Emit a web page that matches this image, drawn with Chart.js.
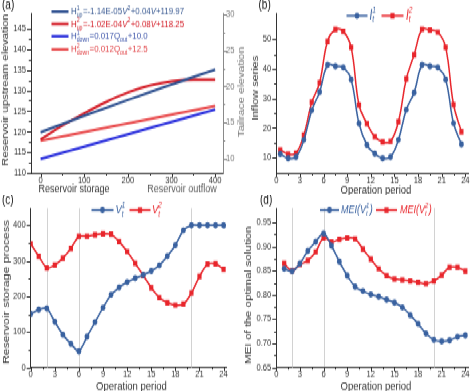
<!DOCTYPE html>
<html>
<head>
<meta charset="utf-8">
<script src="https://cdn.jsdelivr.net/npm/chart.js@4.4.1/dist/chart.umd.min.js"></script>
<style>
  html, body { margin: 0; padding: 0; background: #fff; overflow: hidden; }
  /* the source figure is squashed sideways, so draw at 1/1.3 height and stretch */
  #fig { position: absolute; left: 0; top: 0; width: 474px; height: 301px; transform: scaleY(1.3); transform-origin: 0 0; }
  #fig canvas { position: absolute; }
</style>
</head>
<body>
<div id="fig">
  <canvas id="ca" width="250" height="150" style="left:0px;top:0px"></canvas>
  <canvas id="cb" width="237" height="150" style="left:237px;top:0px"></canvas>
  <canvas id="cc" width="237" height="151" style="left:0px;top:150px"></canvas>
  <canvas id="cd" width="237" height="151" style="left:237px;top:150px"></canvas>
</div>
<script>
const STRETCH = 1.3;
const FONT = '"Liberation Sans", Arial, sans-serif';
const BLUE = '#3a62a0';
const RED = '#e8262c';
const INK = '#333';

// ── (a) level curves ──
const storageLin = [0, 100, 200, 300, 400];
const h1Up = [119.9, 123.9, 127.7, 131.4, 135.0];
const storageCurve = [0, 50, 100, 150, 200, 250, 300, 350, 400];
const h2Up = [118.2, 121.5, 124.5, 127.2, 129.5, 131.2, 132.2, 132.6, 132.6];
const outflow = [0, 400];
const h1Down = [10.0, 16.8];
const h2Down = [12.5, 17.3];
const aTicksX = [0, 100, 200, 300, 400];
const aTicksL = [110, 115, 120, 125, 130, 135, 140, 145];
const aTicksR = [10, 15, 20, 25, 30];

// ── (b) inflow ──
const hoursB = [0.5, 1.5, 2.5, 3.5, 4.5, 5.5, 6.5, 7.5, 8.5, 9.5, 10.5, 11.5, 12.5, 13.5, 14.5, 15.5, 16.5, 17.5, 18.5, 19.5, 20.5, 21.5, 22.5, 23.5];
const inflow1 = [11.2, 9.8, 10.2, 16.0, 26.0, 32.2, 41.3, 40.9, 40.5, 36.4, 21.5, 14.3, 11.3, 9.8, 10.2, 16.0, 26.2, 32.0, 41.3, 40.9, 40.5, 36.4, 21.6, 14.5];
const inflow2 = [12.6, 11.2, 11.5, 17.6, 28.7, 35.3, 49.3, 53.3, 52.7, 47.3, 27.8, 21.5, 17.1, 15.3, 15.5, 22.1, 36.6, 44.8, 53.4, 53.1, 52.4, 47.3, 27.9, 18.7];
const bTicksY = [10, 20, 30, 40, 50];
const periodTicks = [0, 3, 6, 9, 12, 15, 18, 21, 24];

// ── (c) storage process ──
const hoursC = [0, 1, 2, 3, 4, 5, 6, 7, 8, 9, 10, 11, 12, 13, 14, 15, 16, 17, 18, 19, 20, 21, 22, 23, 24];
const storage1 = [150, 162, 166, 128, 92, 66, 45, 86, 127, 168, 204, 225, 240, 251, 260, 271, 287, 313, 344, 386, 400, 400, 400, 400, 400];
const storage2 = [348, 313, 280, 288, 307, 335, 369, 369, 373, 376, 375, 354, 326, 293, 259, 224, 196, 182, 175, 178, 209, 256, 291, 292, 276];
const cTicksY = [0, 100, 200, 300, 400];
const markPeriods = [2, 6, 20];

// ── (d) MEI ──
const hoursD = [1, 2, 3, 4, 5, 6, 7, 8, 9, 10, 11, 12, 13, 14, 15, 16, 17, 18, 19, 20, 21, 22, 23, 24];
const mei1 = [0.854, 0.849, 0.865, 0.891, 0.910, 0.927, 0.902, 0.869, 0.840, 0.817, 0.808, 0.801, 0.796, 0.790, 0.784, 0.774, 0.758, 0.740, 0.720, 0.707, 0.704, 0.706, 0.713, 0.716];
const mei2 = [0.865, 0.850, 0.863, 0.871, 0.889, 0.918, 0.910, 0.915, 0.918, 0.916, 0.895, 0.874, 0.854, 0.840, 0.833, 0.831, 0.829, 0.826, 0.823, 0.829, 0.841, 0.857, 0.857, 0.849];
const dTicksY = [0.65, 0.70, 0.75, 0.80, 0.85, 0.90, 0.95];

const zip = (xs, ys) => xs.map((x, i) => ({ x, y: ys[i] }));

// ── helpers ──
function axis(o) {
  return {
    type: 'linear', position: o.pos, min: o.min, max: o.max,
    grid: { display: false, drawTicks: false },
    border: { display: true, color: o.color || INK, width: 1 },
    ticks: {
      font: { family: FONT, size: 7.6 }, color: o.tcolor || INK,
      padding: o.pad, autoSkip: false, maxRotation: 0,
      callback: o.fmt || (v => v),
    },
    afterBuildTicks: s => { s.ticks = o.ticks.map(v => ({ value: v })); },
    afterFit: s => { if (o.pos === 'bottom') s.height = o.size; else s.width = o.size; },
  };
}

function drawAxisTicks(chart, id, majors, color) {
  const s = chart.scales[id], ctx = chart.ctx;
  const minors = [];
  for (let i = 0; i < majors.length - 1; i++) minors.push((majors[i] + majors[i + 1]) / 2);
  ctx.save();
  ctx.strokeStyle = color; ctx.lineWidth = 1;
  const tick = (v, len) => {
    const p = Math.round(s.getPixelForValue(v)) + 0.5;
    ctx.beginPath();
    if (s.position === 'bottom') { ctx.moveTo(p, s.top); ctx.lineTo(p, s.top + len / STRETCH); }
    else if (s.position === 'left') { ctx.moveTo(s.right, p); ctx.lineTo(s.right - len, p); }
    else { ctx.moveTo(s.left, p); ctx.lineTo(s.left + len, p); }
    ctx.stroke();
  };
  majors.forEach(v => tick(v, 4));
  minors.forEach(v => tick(v, 2.2));
  ctx.restore();
}

// figure pixel coords -> canvas coords
function mapper(ox, oy) {
  return { x: X => X - ox, y: Y => (Y - oy) / STRETCH };
}

function label(ctx, s, x, y, size, color, align) {
  ctx.save();
  ctx.font = `${size}px ${FONT}`; ctx.fillStyle = color;
  ctx.textAlign = align || 'center'; ctx.textBaseline = 'middle';
  ctx.fillText(s, x, y);
  ctx.restore();
}

function vlabel(ctx, s, x, y, size, color) {
  ctx.save();
  ctx.translate(x, y); ctx.rotate(-Math.PI / 2);
  ctx.font = `${size}px ${FONT}`; ctx.fillStyle = color;
  ctx.textAlign = 'center'; ctx.textBaseline = 'middle';
  ctx.fillText(s, 0, 0);
  ctx.restore();
}

// parts: plain strings, {i:'V'} italics, {sup, sub, it} stacked scripts
function rich(ctx, parts, x, y, size, color, italicAll) {
  ctx.save();
  ctx.fillStyle = color; ctx.textAlign = 'left'; ctx.textBaseline = 'middle';
  const base = italicAll ? 'italic ' : '';
  let cx = x;
  parts.forEach(p => {
    if (typeof p === 'string' || p.i) {
      const t = typeof p === 'string' ? p : p.i;
      ctx.font = `${p.i ? 'italic ' : base}${size}px ${FONT}`;
      ctx.fillText(t, cx, y);
      cx += ctx.measureText(t).width;
    } else {
      const sm = size * 0.66;
      ctx.font = `${p.it || italicAll ? 'italic ' : ''}${sm}px ${FONT}`;
      let w = 0;
      if (p.sup) { ctx.fillText(p.sup, cx, y - size * 0.36); w = Math.max(w, ctx.measureText(p.sup).width); }
      if (p.sub) { ctx.fillText(p.sub, cx, y + size * 0.34); w = Math.max(w, ctx.measureText(p.sub).width); }
      cx += w + 0.4;
    }
  });
  ctx.restore();
}

function legendSample(ctx, x1, x2, y, color, width, style, r) {
  ctx.save();
  ctx.strokeStyle = color; ctx.fillStyle = color; ctx.lineWidth = width;
  ctx.beginPath(); ctx.moveTo(x1, y); ctx.lineTo(x2, y); ctx.stroke();
  if (style) Chart.helpers.drawPoint(ctx, { pointStyle: style, radius: r, borderWidth: 1, rotation: 0 }, (x1 + x2) / 2, y);
  ctx.restore();
}

function periodLines(chart) {
  const ctx = chart.ctx, a = chart.chartArea, sx = chart.scales.x;
  ctx.save();
  ctx.strokeStyle = '#d2d2d2'; ctx.lineWidth = 1;
  markPeriods.forEach(p => {
    const x = Math.round(sx.getPixelForValue(p)) + 0.5;
    ctx.beginPath(); ctx.moveTo(x, a.top); ctx.lineTo(x, a.bottom); ctx.stroke();
  });
  ctx.restore();
}

const base = {
  responsive: false, maintainAspectRatio: false, animation: false, devicePixelRatio: 1,
  plugins: { legend: { display: false }, tooltip: { enabled: false } },
  elements: { point: { borderWidth: 1 } },
};

const MARK_B = 1.7, MARK_R = 1.9;

function seriesStyle(color, style, r, tension) {
  return {
    borderColor: color, backgroundColor: color, pointBackgroundColor: color, pointBorderColor: color,
    borderWidth: 1.5, pointRadius: r, pointStyle: style, tension, fill: false,
  };
}

// ── (a) ──
new Chart(document.getElementById('ca'), {
  type: 'line',
  data: {
    datasets: [
      { data: zip(storageLin, h1Up), yAxisID: 'yL', borderColor: '#2f5190', borderWidth: 2, pointRadius: 0, tension: 0 },
      { data: zip(storageCurve, h2Up), yAxisID: 'yL', borderColor: '#d4202a', borderWidth: 2, pointRadius: 0, cubicInterpolationMode: 'monotone' },
      { data: zip(outflow, h1Down), yAxisID: 'yR', borderColor: '#2a2fdc', borderWidth: 2, pointRadius: 0, tension: 0 },
      { data: zip(outflow, h2Down), yAxisID: 'yR', borderColor: '#e84a4c', borderWidth: 2, pointRadius: 0, tension: 0 },
    ],
  },
  options: {
    ...base,
    layout: { padding: { top: 10.2, left: 0, right: 0, bottom: 0 } },
    scales: {
      x: axis({ pos: 'bottom', min: -22, max: 418, ticks: aTicksX, size: 16.7, pad: 1.5 }),
      yL: axis({ pos: 'left', min: 110, max: 148.6, ticks: aTicksL, size: 31, pad: 5 }),
      yR: axis({ pos: 'right', min: 8, max: 30.1, ticks: aTicksR, size: 27, pad: 3, color: '#8a8a8a', tcolor: '#7a7a7a' }),
    },
  },
  plugins: [{
    id: 'decoA',
    afterDraw(chart) {
      const ctx = chart.ctx, P = mapper(0, 0);
      drawAxisTicks(chart, 'x', aTicksX, INK);
      drawAxisTicks(chart, 'yL', aTicksL, INK);
      drawAxisTicks(chart, 'yR', aTicksR, '#8a8a8a');
      label(ctx, '(a)', P.x(2), P.y(6), 10, '#111', 'left');
      vlabel(ctx, 'Reservoir upstream elevation', P.x(6), P.y(90), 9, INK);
      vlabel(ctx, 'Tailrace elevation', P.x(242), P.y(92), 9, '#7a7a7a');
      label(ctx, 'Reservoir storage', P.x(74), P.y(189), 9, INK);
      label(ctx, 'Reservoir outflow', P.x(182), P.y(189), 9, '#5a5a5a');

      const rows = [
        { y: 11.7, line: '#2f5190', text: '#3a5a92', parts: ['H', { sup: '1', sub: 'up' }, '=-1.14E-05', { i: 'V' }, { sup: '2' }, '+0.04', { i: 'V' }, '+119.97'] },
        { y: 24.0, line: '#d4202a', text: '#d4202a', parts: ['H', { sup: '2', sub: 'up' }, '=-1.02E-04', { i: 'V' }, { sup: '2' }, '+0.08', { i: 'V' }, '+118.25'] },
        { y: 36.3, line: '#2a2fdc', text: '#3a52a8', parts: ['H', { sup: '1', sub: 'down' }, '=0.017Q', { sub: 'out' }, '+10.0'] },
        { y: 49.5, line: '#e84a4c', text: '#e04044', parts: ['H', { sup: '2', sub: 'down' }, '=0.012Q', { sub: 'out' }, '+12.5'] },
      ];
      rows.forEach(r => {
        legendSample(ctx, P.x(51.5), P.x(68.5), P.y(r.y), r.line, 2);
        rich(ctx, r.parts, P.x(71), P.y(r.y), 7.9, r.text);
      });
    },
  }],
});

// ── (b) ──
new Chart(document.getElementById('cb'), {
  type: 'line',
  data: {
    datasets: [
      { data: zip(hoursB, inflow1), ...seriesStyle(BLUE, 'circle', MARK_B, 0.4) },
      { data: zip(hoursB, inflow2), ...seriesStyle(RED, 'rect', MARK_R, 0.4) },
    ],
  },
  options: {
    ...base,
    layout: { padding: { top: 10.2, left: 0, right: 4, bottom: 0 } },
    scales: {
      x: axis({ pos: 'bottom', min: 0, max: 24.4, ticks: periodTicks, size: 16.7, pad: 1.5 }),
      y: axis({ pos: 'left', min: 4.7, max: 58.8, ticks: bTicksY, size: 39.3, pad: 5 }),
    },
  },
  plugins: [{
    id: 'decoB',
    afterDraw(chart) {
      const ctx = chart.ctx, P = mapper(237, 0);
      drawAxisTicks(chart, 'x', periodTicks, INK);
      drawAxisTicks(chart, 'y', bTicksY, INK);
      label(ctx, '(b)', P.x(258.5), P.y(6), 10, '#111', 'left');
      vlabel(ctx, 'Inflow series', P.x(255.5), P.y(88), 9, INK);
      label(ctx, 'Operation period', P.x(376), P.y(190.5), 9.5, INK);
      legendSample(ctx, P.x(346.5), P.x(367.5), P.y(15.7), BLUE, 1.5, 'circle', MARK_B);
      rich(ctx, [{ i: 'I' }, { sup: '1', sub: 't', it: true }], P.x(369.5), P.y(15.7), 10, BLUE);
      legendSample(ctx, P.x(381.5), P.x(403.5), P.y(15.7), RED, 1.5, 'rect', MARK_R);
      rich(ctx, [{ i: 'I' }, { sup: '2', sub: 't', it: true }], P.x(406), P.y(15.7), 10, RED);
    },
  }],
});

// ── (c) ──
new Chart(document.getElementById('cc'), {
  type: 'line',
  data: {
    datasets: [
      { data: zip(hoursC, storage1), ...seriesStyle(BLUE, 'circle', MARK_B, 0.25) },
      { data: zip(hoursC, storage2), ...seriesStyle(RED, 'rect', MARK_R, 0.25) },
    ],
  },
  options: {
    ...base,
    layout: { padding: { top: 10.2, left: 0, right: 11, bottom: 0 } },
    scales: {
      x: axis({ pos: 'bottom', min: 0, max: 24.3, ticks: periodTicks, size: 18.5, pad: 1 }),
      y: axis({ pos: 'left', min: 0, max: 448, ticks: cTicksY, size: 30.7, pad: 5 }),
    },
  },
  plugins: [{
    id: 'decoC',
    beforeDatasetsDraw: periodLines,
    afterDraw(chart) {
      const ctx = chart.ctx, P = mapper(0, 195);
      drawAxisTicks(chart, 'x', periodTicks, INK);
      drawAxisTicks(chart, 'y', cTicksY, INK);
      label(ctx, '(c)', P.x(2), P.y(200.5), 10, '#111', 'left');
      vlabel(ctx, 'Reservoir storage process', P.x(6), P.y(292), 9.5, INK);
      label(ctx, 'Operation period', P.x(131.5), P.y(386.5), 9.5, INK);
      legendSample(ctx, P.x(91.5), P.x(113.5), P.y(210), BLUE, 1.5, 'circle', MARK_B);
      rich(ctx, [{ i: 'V' }, { sup: '1', sub: 't', it: true }], P.x(115.5), P.y(210), 9.5, BLUE);
      legendSample(ctx, P.x(129.5), P.x(150.5), P.y(210), RED, 1.5, 'rect', MARK_R);
      rich(ctx, [{ i: 'V' }, { sup: '2', sub: 't', it: true }], P.x(152), P.y(210), 9.5, RED);
    },
  }],
});

// ── (d) ──
new Chart(document.getElementById('cd'), {
  type: 'line',
  data: {
    datasets: [
      { data: zip(hoursD, mei1), ...seriesStyle(BLUE, 'circle', MARK_B, 0.4) },
      { data: zip(hoursD, mei2), ...seriesStyle(RED, 'rect', MARK_R, 0.4) },
    ],
  },
  options: {
    ...base,
    layout: { padding: { top: 10, left: 0, right: 4, bottom: 0 } },
    scales: {
      x: axis({ pos: 'bottom', min: 0, max: 24.4, ticks: periodTicks, size: 18.5, pad: 1 }),
      y: axis({ pos: 'left', min: 0.65, max: 0.98, ticks: dTicksY, size: 39.3, pad: 5, fmt: v => v.toFixed(2) }),
    },
  },
  plugins: [{
    id: 'decoD',
    beforeDatasetsDraw: periodLines,
    afterDraw(chart) {
      const ctx = chart.ctx, P = mapper(237, 195);
      drawAxisTicks(chart, 'x', periodTicks, INK);
      drawAxisTicks(chart, 'y', dTicksY, INK);
      label(ctx, '(d)', P.x(260), P.y(200.5), 10, '#111', 'left');
      vlabel(ctx, 'MEI of the optimal solution', P.x(248.5), P.y(295), 9, INK);
      label(ctx, 'Operation period', P.x(376), P.y(386.5), 9.5, INK);
      legendSample(ctx, P.x(320), P.x(339), P.y(210), BLUE, 1.5, 'circle', MARK_B);
      rich(ctx, ['MEI(', 'V', { sup: '1', sub: 't' }, ')'], P.x(341), P.y(210), 9, BLUE, true);
      legendSample(ctx, P.x(376), P.x(397), P.y(210), RED, 1.5, 'rect', MARK_R);
      rich(ctx, ['MEI(', 'V', { sup: '2', sub: 't' }, ')'], P.x(400), P.y(210), 9, RED, true);
    },
  }],
});
</script>
</body>
</html>
